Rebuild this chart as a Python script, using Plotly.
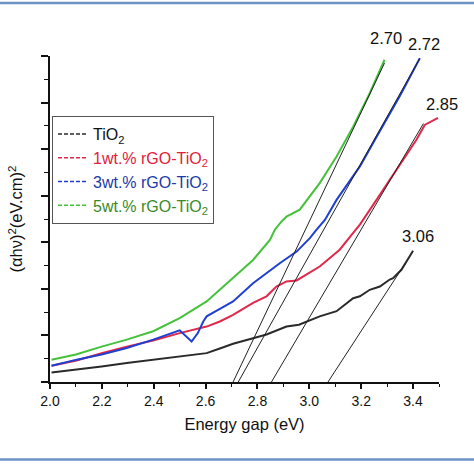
import plotly.graph_objects as go

# ---- data ----
tio2_x = [2.006, 2.103, 2.199, 2.296, 2.398, 2.50, 2.604, 2.655, 2.706, 2.783, 2.835, 2.912, 2.96,
          3.04, 3.105, 3.169, 3.195, 3.233, 3.272, 3.31, 3.323, 3.355, 3.374, 3.394, 3.40]
tio2_y = [0.206, 0.264, 0.335, 0.41, 0.48, 0.55, 0.62, 0.72, 0.82, 0.94, 1.02, 1.19, 1.23,
          1.41, 1.52, 1.80, 1.84, 1.98, 2.05, 2.20, 2.23, 2.41, 2.59, 2.78, 2.82]

rgo1_x = [2.006, 2.103, 2.199, 2.296, 2.398, 2.50, 2.604, 2.655, 2.706, 2.783, 2.835, 2.873, 2.912,
          2.951, 3.04, 3.117, 3.169, 3.195, 3.259, 3.31, 3.36, 3.40, 3.413, 3.445, 3.458, 3.496]
rgo1_y = [0.35, 0.46, 0.62, 0.76, 0.89, 1.05, 1.19, 1.30, 1.44, 1.70, 1.84, 2.05, 2.16,
          2.18, 2.48, 2.84, 3.20, 3.38, 3.91, 4.34, 4.75, 5.08, 5.20, 5.52, 5.56, 5.67]

rgo3_x = [2.006, 2.103, 2.199, 2.296, 2.398, 2.50, 2.546, 2.57, 2.591, 2.604, 2.655, 2.706, 2.783,
          2.886, 2.951, 3.002, 3.028, 3.06, 3.105, 3.195, 3.253, 3.31, 3.35, 3.426]
rgo3_y = [0.35, 0.48, 0.59, 0.73, 0.91, 1.11, 0.87, 1.05, 1.30, 1.41, 1.57, 1.73, 2.12,
          2.55, 2.80, 3.09, 3.27, 3.48, 3.91, 4.63, 5.20, 5.77, 6.15, 6.95]

rgo5_x = [2.006, 2.10, 2.199, 2.296, 2.398, 2.50, 2.604, 2.655, 2.706, 2.783, 2.848, 2.867, 2.893,
          2.912, 2.963, 3.04, 3.105, 3.169, 3.233, 3.29]
rgo5_y = [0.48, 0.59, 0.76, 0.91, 1.09, 1.37, 1.73, 1.98, 2.25, 2.62, 3.05, 3.27, 3.45,
          3.55, 3.70, 4.27, 4.84, 5.48, 6.20, 6.92]

# tangent (Tauc) lines: x-intercept -> upper end
tan5_x, tan5_y = [2.706, 3.29], [0.0, 6.85]
tan3_x, tan3_y = [2.726, 3.426], [0.0, 6.95]
tan1_x, tan1_y = [2.854, 3.44], [0.0, 5.55]
tan0_x, tan0_y = [3.072, 3.37], [0.0, 2.55]

gap_labels = ["2.70", "2.72", "2.85", "3.06"]

series_names = ["TiO<sub>2</sub>", "1wt.% rGO-TiO<sub>2</sub>",
                "3wt.% rGO-TiO<sub>2</sub>", "5wt.% rGO-TiO<sub>2</sub>"]

FONT = "Arial, Liberation Sans, sans-serif"
line_cols = ["#2a2a2a", "#e0284a", "#1f3fd0", "#45c23a"]
text_cols = ["#111111", "#e0203c", "#1a3aa8", "#3a8a2a"]

PW, PH, L, T = 389, 326, 50, 56  # plot area in pixels


def px_to_paper(xp, yp):
    return (xp - L) / PW, (T + PH - yp) / PH


fig = go.Figure()

curves = [(tio2_x, tio2_y), (rgo1_x, rgo1_y), (rgo3_x, rgo3_y), (rgo5_x, rgo5_y)]
for (cx, cy), col in zip(curves, line_cols):
    fig.add_trace(go.Scatter(x=cx, y=cy, mode="lines", line=dict(color=col, width=2),
                             showlegend=False, cliponaxis=False))

for tx, ty in [(tan5_x, tan5_y), (tan3_x, tan3_y), (tan1_x, tan1_y), (tan0_x, tan0_y)]:
    fig.add_trace(go.Scatter(x=tx, y=ty, mode="lines", line=dict(color="#222222", width=1),
                             showlegend=False, cliponaxis=False))

# legend entries
for name, lc, tc in zip(series_names, line_cols, text_cols):
    fig.add_trace(go.Scatter(x=[None], y=[None], mode="lines",
                             line=dict(color=lc, width=1.5, dash="4px,2px"),
                             name=f"<span style='color:{tc}'>{name}</span>"))

# gap value labels (placed in pixel-derived paper coordinates)
label_px = [(385.8, 37.5), (424, 44), (442, 104), (418, 236)]
for txt, (xp, yp) in zip(gap_labels, label_px):
    ax_, ay_ = px_to_paper(xp, yp)
    fig.add_annotation(x=ax_, xref="paper", y=ay_, yref="paper",
                       text=txt, showarrow=False, xanchor="center", yanchor="middle",
                       font=dict(size=16.5, color="#111111", family=FONT))

# blue frame lines of the picture
for yp in [3, 459.5]:
    _, yy = px_to_paper(0, yp)
    fig.add_shape(type="line", xref="paper", yref="paper",
                  x0=-L / PW, x1=(474 - L) / PW, y0=yy, y1=yy,
                  line=dict(color="#6d92c4", width=2.5))

lx, ly = px_to_paper(52, 116)
fig.update_layout(
    width=474, height=474,
    margin=dict(l=L, r=474 - L - PW, t=T, b=474 - T - PH),
    paper_bgcolor="white", plot_bgcolor="white",
    font=dict(family=FONT, color="#111111"),
    legend=dict(x=lx, y=ly, xanchor="left", yanchor="top",
                bgcolor="white", bordercolor="#555555", borderwidth=1,
                font=dict(size=16, family=FONT), itemwidth=30, tracegroupgap=2),
    xaxis=dict(range=[2.0, 3.5], dtick=0.2, tick0=2.0, tickformat=".1f",
               showgrid=False, zeroline=False, showline=True, linecolor="#111111", linewidth=1.5,
               ticks="outside", ticklen=5, tickwidth=1.5, tickcolor="#111111",
               minor=dict(dtick=0.1, ticks="outside", ticklen=3, tickcolor="#111111", tickwidth=1.2),
               tickfont=dict(size=14, family=FONT, color="#111111"),
               title=dict(text="Energy gap (eV)", font=dict(size=16.5, family=FONT, color="#111111"),
                          standoff=11)),
    yaxis=dict(range=[0, 7], dtick=1, tick0=0, showticklabels=False,
               showgrid=False, zeroline=False, showline=True, linecolor="#111111", linewidth=1.5,
               ticks="outside", ticklen=7, tickwidth=1.5, tickcolor="#111111",
               minor=dict(dtick=0.5, ticks="outside", ticklen=4, tickcolor="#111111", tickwidth=1.2),
               title=dict(text="(αhν)<sup>2</sup>(eV.cm)<sup>2</sup>",
                          font=dict(size=16.5, family=FONT, color="#111111"), standoff=14)),
)

fig.write_html("out.html")
